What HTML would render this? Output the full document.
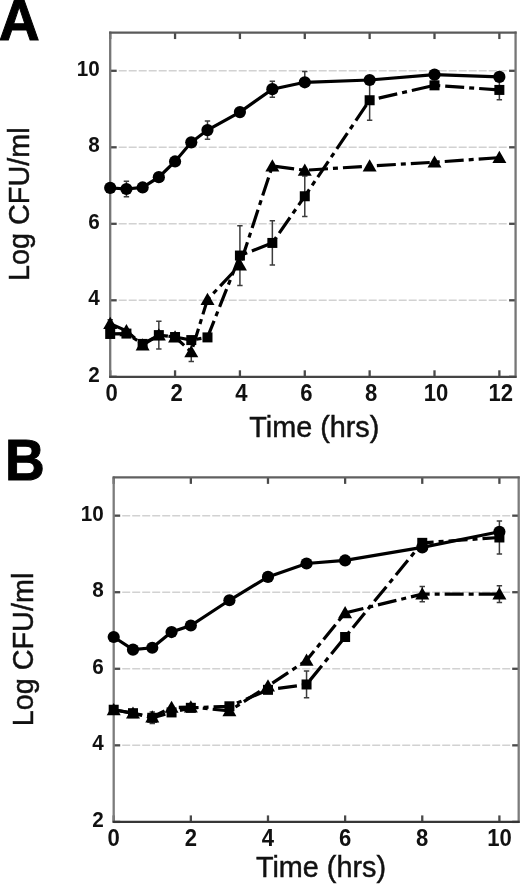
<!DOCTYPE html>
<html><head><meta charset="utf-8"><title>Growth curves</title>
<style>
html,body{margin:0;padding:0;background:#fff;width:520px;height:884px;overflow:hidden}
svg{display:block;filter:blur(0.45px)}
.tl{font-family:"Liberation Sans",Arial,sans-serif;font-weight:bold;font-size:22px;fill:#111}
.tt{font-family:"Liberation Sans",Arial,sans-serif;font-size:28.8px;fill:#111;stroke:#111;stroke-width:0.45px}
.xl{font-size:23px}
.pl{font-family:"Liberation Sans",Arial,sans-serif;font-weight:bold;font-size:58.2px;fill:#000;stroke:#000;stroke-width:1px}
</style></head><body>
<svg width="520" height="884" viewBox="0 0 520 884">
<line x1="118.7" y1="300.3" x2="507.58" y2="300.3" stroke="#d2d2d2" stroke-width="1.5" stroke-dasharray="8 2"/>
<line x1="118.7" y1="223.8" x2="507.58" y2="223.8" stroke="#d2d2d2" stroke-width="1.5" stroke-dasharray="8 2"/>
<line x1="118.7" y1="147.3" x2="507.58" y2="147.3" stroke="#d2d2d2" stroke-width="1.5" stroke-dasharray="8 2"/>
<line x1="118.7" y1="70.8" x2="507.58" y2="70.8" stroke="#d2d2d2" stroke-width="1.5" stroke-dasharray="8 2"/>
<line x1="110.2" y1="376.8" x2="116.7" y2="376.8" stroke="#4a4a4a" stroke-width="2.3"/>
<line x1="515.58" y1="376.8" x2="509.08" y2="376.8" stroke="#4a4a4a" stroke-width="2.3"/>
<line x1="110.2" y1="300.3" x2="116.7" y2="300.3" stroke="#4a4a4a" stroke-width="2.3"/>
<line x1="515.58" y1="300.3" x2="509.08" y2="300.3" stroke="#4a4a4a" stroke-width="2.3"/>
<line x1="110.2" y1="223.8" x2="116.7" y2="223.8" stroke="#4a4a4a" stroke-width="2.3"/>
<line x1="515.58" y1="223.8" x2="509.08" y2="223.8" stroke="#4a4a4a" stroke-width="2.3"/>
<line x1="110.2" y1="147.3" x2="116.7" y2="147.3" stroke="#4a4a4a" stroke-width="2.3"/>
<line x1="515.58" y1="147.3" x2="509.08" y2="147.3" stroke="#4a4a4a" stroke-width="2.3"/>
<line x1="110.2" y1="70.8" x2="116.7" y2="70.8" stroke="#4a4a4a" stroke-width="2.3"/>
<line x1="515.58" y1="70.8" x2="509.08" y2="70.8" stroke="#4a4a4a" stroke-width="2.3"/>
<line x1="110.2" y1="376.8" x2="110.2" y2="370.3" stroke="#4a4a4a" stroke-width="2.3"/>
<line x1="110.2" y1="32.55" x2="110.2" y2="39.05" stroke="#4a4a4a" stroke-width="2.3"/>
<line x1="175.06" y1="376.8" x2="175.06" y2="370.3" stroke="#4a4a4a" stroke-width="2.3"/>
<line x1="175.06" y1="32.55" x2="175.06" y2="39.05" stroke="#4a4a4a" stroke-width="2.3"/>
<line x1="239.92" y1="376.8" x2="239.92" y2="370.3" stroke="#4a4a4a" stroke-width="2.3"/>
<line x1="239.92" y1="32.55" x2="239.92" y2="39.05" stroke="#4a4a4a" stroke-width="2.3"/>
<line x1="304.78" y1="376.8" x2="304.78" y2="370.3" stroke="#4a4a4a" stroke-width="2.3"/>
<line x1="304.78" y1="32.55" x2="304.78" y2="39.05" stroke="#4a4a4a" stroke-width="2.3"/>
<line x1="369.64" y1="376.8" x2="369.64" y2="370.3" stroke="#4a4a4a" stroke-width="2.3"/>
<line x1="369.64" y1="32.55" x2="369.64" y2="39.05" stroke="#4a4a4a" stroke-width="2.3"/>
<line x1="434.5" y1="376.8" x2="434.5" y2="370.3" stroke="#4a4a4a" stroke-width="2.3"/>
<line x1="434.5" y1="32.55" x2="434.5" y2="39.05" stroke="#4a4a4a" stroke-width="2.3"/>
<line x1="499.36" y1="376.8" x2="499.36" y2="370.3" stroke="#4a4a4a" stroke-width="2.3"/>
<line x1="499.36" y1="32.55" x2="499.36" y2="39.05" stroke="#4a4a4a" stroke-width="2.3"/>
<path d="M110.2 31.55V377.8M515.58 31.55V377.8" stroke="#767676" stroke-width="2.3" fill="none"/>
<path d="M109.2 32.55H516.58" stroke="#5a5a5a" stroke-width="2.3" fill="none"/>
<path d="M109.2 376.8H516.58" stroke="#454545" stroke-width="2.3" fill="none"/>
<text transform="translate(99.7 381.8) scale(0.94 1)" text-anchor="end" class="tl">2</text>
<text transform="translate(99.7 305.3) scale(0.94 1)" text-anchor="end" class="tl">4</text>
<text transform="translate(99.7 228.8) scale(0.94 1)" text-anchor="end" class="tl">6</text>
<text transform="translate(99.7 152.3) scale(0.94 1)" text-anchor="end" class="tl">8</text>
<text transform="translate(99.7 75.8) scale(0.94 1)" text-anchor="end" class="tl">10</text>
<text transform="translate(111.7 400.6) scale(0.96 1)" text-anchor="middle" class="tl xl">0</text>
<text transform="translate(176.56 400.6) scale(0.96 1)" text-anchor="middle" class="tl xl">2</text>
<text transform="translate(241.42 400.6) scale(0.96 1)" text-anchor="middle" class="tl xl">4</text>
<text transform="translate(306.28 400.6) scale(0.96 1)" text-anchor="middle" class="tl xl">6</text>
<text transform="translate(371.14 400.6) scale(0.96 1)" text-anchor="middle" class="tl xl">8</text>
<text transform="translate(436 400.6) scale(0.96 1)" text-anchor="middle" class="tl xl">10</text>
<text transform="translate(500.86 400.6) scale(0.96 1)" text-anchor="middle" class="tl xl">12</text>
<text x="314.3" y="436.9" text-anchor="middle" class="tt">Time (hrs)</text>
<text transform="translate(29.2 204.2) rotate(-90)" text-anchor="middle" class="tt">Log CFU/ml</text>
<text transform="translate(-1.2 40) scale(0.975 1)" class="pl">A</text>
<path d="M207.49 120.91V139.27M204.79 120.91H210.19M204.79 139.27H210.19" stroke="#3c3c3c" stroke-width="1.5" fill="none"/>
<path d="M272.35 81.13V97.19M269.65 81.13H275.05M269.65 97.19H275.05" stroke="#3c3c3c" stroke-width="1.5" fill="none"/>
<path d="M304.78 71.57V82.28M302.08 71.57H307.48" stroke="#3c3c3c" stroke-width="1.5" fill="none"/>
<path d="M126.42 181.34V196.64M123.72 181.34H129.12M123.72 196.64H129.12" stroke="#3c3c3c" stroke-width="1.5" fill="none"/>
<path d="M142.63 182.87V192.05M139.93 182.87H145.33M139.93 192.05H145.33" stroke="#3c3c3c" stroke-width="1.5" fill="none"/>
<path d="M434.5 71.56V77.69M431.8 71.56H437.2M431.8 77.69H437.2" stroke="#3c3c3c" stroke-width="1.5" fill="none"/>
<path d="M158.84 321.34V348.88M156.15 321.34H161.54M156.15 348.88H161.54" stroke="#3c3c3c" stroke-width="1.5" fill="none"/>
<path d="M239.92 225.71V285.38M237.22 225.71H242.62M237.22 285.38H242.62" stroke="#3c3c3c" stroke-width="1.5" fill="none"/>
<path d="M272.35 220.74V265.11M269.65 220.74H275.05M269.65 265.11H275.05" stroke="#3c3c3c" stroke-width="1.5" fill="none"/>
<path d="M304.78 175.99V216.53M302.08 175.99H307.48M302.08 216.53H307.48" stroke="#3c3c3c" stroke-width="1.5" fill="none"/>
<path d="M369.64 80.36V120.14M366.94 80.36H372.34M366.94 120.14H372.34" stroke="#3c3c3c" stroke-width="1.5" fill="none"/>
<path d="M499.36 79.98V99.87M496.66 79.98H502.06M496.66 99.87H502.06" stroke="#3c3c3c" stroke-width="1.5" fill="none"/>
<path d="M434.5 81.51V89.16M431.8 81.51H437.2M431.8 89.16H437.2" stroke="#3c3c3c" stroke-width="1.5" fill="none"/>
<path d="M191.28 342.38V361.5M188.58 342.38H193.97M188.58 361.5H193.97" stroke="#3c3c3c" stroke-width="1.5" fill="none"/>
<path d="M110.2 319.81V327.46M107.5 319.81H112.9M107.5 327.46H112.9" stroke="#3c3c3c" stroke-width="1.5" fill="none"/>
<polyline points="110.2,323.63 126.42,330.9 142.63,345.05 158.84,335.11 175.06,337.02 191.28,351.94 207.49,299.54 239.92,265.11 272.35,166.04 304.78,170.25 369.64,166.04 434.5,162.22 499.36,157.63" fill="none" stroke="#000" stroke-width="3.2" stroke-dasharray="19 5 5 5"/>
<polyline points="110.2,333.96 126.42,333.58 142.63,343.91 158.84,335.11 175.06,337.02 191.28,340.08 207.49,337.4 239.92,255.55 272.35,242.93 304.78,196.26 369.64,100.25 434.5,85.34 499.36,89.93" fill="none" stroke="#000" stroke-width="3.2" stroke-dasharray="19 5 5 5"/>
<polyline points="110.2,187.84 126.42,188.99 142.63,187.46 158.84,177.14 175.06,161.45 191.28,142.33 207.49,130.09 239.92,112.11 272.35,89.16 304.78,82.28 369.64,79.98 434.5,74.62 499.36,76.92" fill="none" stroke="#000" stroke-width="3.2"/>
<path d="M110.2 316.83L117.2 329.03H103.2Z"/>
<path d="M126.42 324.1L133.42 336.3H119.42Z"/>
<path d="M142.63 338.25L149.63 350.45H135.63Z"/>
<path d="M158.84 328.31L165.84 340.51H151.84Z"/>
<path d="M175.06 330.22L182.06 342.42H168.06Z"/>
<path d="M191.28 345.14L198.28 357.34H184.28Z"/>
<path d="M207.49 292.74L214.49 304.94H200.49Z"/>
<path d="M239.92 258.31L246.92 270.51H232.92Z"/>
<path d="M272.35 159.24L279.35 171.44H265.35Z"/>
<path d="M304.78 163.45L311.78 175.65H297.78Z"/>
<path d="M369.64 159.24L376.64 171.44H362.64Z"/>
<path d="M434.5 155.42L441.5 167.62H427.5Z"/>
<path d="M499.36 150.83L506.36 163.03H492.36Z"/>
<rect x="105.2" y="328.96" width="10" height="10"/>
<rect x="121.42" y="328.58" width="10" height="10"/>
<rect x="137.63" y="338.91" width="10" height="10"/>
<rect x="153.84" y="330.11" width="10" height="10"/>
<rect x="170.06" y="332.02" width="10" height="10"/>
<rect x="186.28" y="335.08" width="10" height="10"/>
<rect x="202.49" y="332.4" width="10" height="10"/>
<rect x="234.92" y="250.55" width="10" height="10"/>
<rect x="267.35" y="237.93" width="10" height="10"/>
<rect x="299.78" y="191.26" width="10" height="10"/>
<rect x="364.64" y="95.25" width="10" height="10"/>
<rect x="429.5" y="80.34" width="10" height="10"/>
<rect x="494.36" y="84.93" width="10" height="10"/>
<circle cx="110.2" cy="187.84" r="6.1"/>
<circle cx="126.42" cy="188.99" r="6.1"/>
<circle cx="142.63" cy="187.46" r="6.1"/>
<circle cx="158.84" cy="177.14" r="6.1"/>
<circle cx="175.06" cy="161.45" r="6.1"/>
<circle cx="191.28" cy="142.33" r="6.1"/>
<circle cx="207.49" cy="130.09" r="6.1"/>
<circle cx="239.92" cy="112.11" r="6.1"/>
<circle cx="272.35" cy="89.16" r="6.1"/>
<circle cx="304.78" cy="82.28" r="6.1"/>
<circle cx="369.64" cy="79.98" r="6.1"/>
<circle cx="434.5" cy="74.62" r="6.1"/>
<circle cx="499.36" cy="76.92" r="6.1"/>
<line x1="122.2" y1="745.34" x2="510.69" y2="745.34" stroke="#d2d2d2" stroke-width="1.5" stroke-dasharray="8 2"/>
<line x1="122.2" y1="668.78" x2="510.69" y2="668.78" stroke="#d2d2d2" stroke-width="1.5" stroke-dasharray="8 2"/>
<line x1="122.2" y1="592.22" x2="510.69" y2="592.22" stroke="#d2d2d2" stroke-width="1.5" stroke-dasharray="8 2"/>
<line x1="122.2" y1="515.66" x2="510.69" y2="515.66" stroke="#d2d2d2" stroke-width="1.5" stroke-dasharray="8 2"/>
<line x1="113.7" y1="821.9" x2="120.2" y2="821.9" stroke="#4a4a4a" stroke-width="2.3"/>
<line x1="518.69" y1="821.9" x2="512.19" y2="821.9" stroke="#4a4a4a" stroke-width="2.3"/>
<line x1="113.7" y1="745.34" x2="120.2" y2="745.34" stroke="#4a4a4a" stroke-width="2.3"/>
<line x1="518.69" y1="745.34" x2="512.19" y2="745.34" stroke="#4a4a4a" stroke-width="2.3"/>
<line x1="113.7" y1="668.78" x2="120.2" y2="668.78" stroke="#4a4a4a" stroke-width="2.3"/>
<line x1="518.69" y1="668.78" x2="512.19" y2="668.78" stroke="#4a4a4a" stroke-width="2.3"/>
<line x1="113.7" y1="592.22" x2="120.2" y2="592.22" stroke="#4a4a4a" stroke-width="2.3"/>
<line x1="518.69" y1="592.22" x2="512.19" y2="592.22" stroke="#4a4a4a" stroke-width="2.3"/>
<line x1="113.7" y1="515.66" x2="120.2" y2="515.66" stroke="#4a4a4a" stroke-width="2.3"/>
<line x1="518.69" y1="515.66" x2="512.19" y2="515.66" stroke="#4a4a4a" stroke-width="2.3"/>
<line x1="113.7" y1="821.9" x2="113.7" y2="815.4" stroke="#4a4a4a" stroke-width="2.3"/>
<line x1="113.7" y1="477.38" x2="113.7" y2="483.88" stroke="#4a4a4a" stroke-width="2.3"/>
<line x1="190.84" y1="821.9" x2="190.84" y2="815.4" stroke="#4a4a4a" stroke-width="2.3"/>
<line x1="190.84" y1="477.38" x2="190.84" y2="483.88" stroke="#4a4a4a" stroke-width="2.3"/>
<line x1="267.98" y1="821.9" x2="267.98" y2="815.4" stroke="#4a4a4a" stroke-width="2.3"/>
<line x1="267.98" y1="477.38" x2="267.98" y2="483.88" stroke="#4a4a4a" stroke-width="2.3"/>
<line x1="345.12" y1="821.9" x2="345.12" y2="815.4" stroke="#4a4a4a" stroke-width="2.3"/>
<line x1="345.12" y1="477.38" x2="345.12" y2="483.88" stroke="#4a4a4a" stroke-width="2.3"/>
<line x1="422.26" y1="821.9" x2="422.26" y2="815.4" stroke="#4a4a4a" stroke-width="2.3"/>
<line x1="422.26" y1="477.38" x2="422.26" y2="483.88" stroke="#4a4a4a" stroke-width="2.3"/>
<line x1="499.4" y1="821.9" x2="499.4" y2="815.4" stroke="#4a4a4a" stroke-width="2.3"/>
<line x1="499.4" y1="477.38" x2="499.4" y2="483.88" stroke="#4a4a4a" stroke-width="2.3"/>
<path d="M113.7 476.38V822.9M518.69 476.38V822.9" stroke="#7c7c7c" stroke-width="2.3" fill="none"/>
<path d="M112.7 477.38H519.69" stroke="#606060" stroke-width="2.3" fill="none"/>
<path d="M112.7 821.9H519.69" stroke="#363636" stroke-width="2.3" fill="none"/>
<text transform="translate(103.8 826.9) scale(0.94 1)" text-anchor="end" class="tl">2</text>
<text transform="translate(103.8 750.34) scale(0.94 1)" text-anchor="end" class="tl">4</text>
<text transform="translate(103.8 673.78) scale(0.94 1)" text-anchor="end" class="tl">6</text>
<text transform="translate(103.8 597.22) scale(0.94 1)" text-anchor="end" class="tl">8</text>
<text transform="translate(103.8 520.66) scale(0.94 1)" text-anchor="end" class="tl">10</text>
<text transform="translate(113.7 845.7) scale(0.96 1)" text-anchor="middle" class="tl xl">0</text>
<text transform="translate(190.84 845.7) scale(0.96 1)" text-anchor="middle" class="tl xl">2</text>
<text transform="translate(267.98 845.7) scale(0.96 1)" text-anchor="middle" class="tl xl">4</text>
<text transform="translate(345.12 845.7) scale(0.96 1)" text-anchor="middle" class="tl xl">6</text>
<text transform="translate(422.26 845.7) scale(0.96 1)" text-anchor="middle" class="tl xl">8</text>
<text transform="translate(499.4 845.7) scale(0.96 1)" text-anchor="middle" class="tl xl">10</text>
<text x="321" y="877.4" text-anchor="middle" class="tt">Time (hrs)</text>
<text transform="translate(32.6 649.5) rotate(-90)" text-anchor="middle" class="tt">Log CFU/ml</text>
<text transform="translate(5 480.2) scale(0.945 1)" class="pl">B</text>
<path d="M306.55 671.08V697.87M303.85 671.08H309.25M303.85 697.87H309.25" stroke="#3c3c3c" stroke-width="1.5" fill="none"/>
<path d="M499.4 521.02V553.94M496.7 521.02H502.1M496.7 553.94H502.1" stroke="#3c3c3c" stroke-width="1.5" fill="none"/>
<path d="M152.27 712.04V723.52M149.57 712.04H154.97M149.57 723.52H154.97" stroke="#3c3c3c" stroke-width="1.5" fill="none"/>
<path d="M499.4 585.71V602.56M496.7 585.71H502.1M496.7 602.56H502.1" stroke="#3c3c3c" stroke-width="1.5" fill="none"/>
<path d="M422.26 586.48V601.79M419.56 586.48H424.96M419.56 601.79H424.96" stroke="#3c3c3c" stroke-width="1.5" fill="none"/>
<polyline points="113.7,709.74 132.99,713.18 152.27,717.01 171.56,707.44 190.84,707.06 229.41,710.89 267.98,686.01 306.55,660.36 345.12,612.89 422.26,594.13 499.4,594.13" fill="none" stroke="#000" stroke-width="3.2" stroke-dasharray="19 5 5 5"/>
<polyline points="113.7,709.74 132.99,713.18 152.27,717.78 171.56,712.42 190.84,707.83 229.41,706.29 267.98,689.83 306.55,684.47 345.12,637.01 422.26,542.84 499.4,537.48" fill="none" stroke="#000" stroke-width="3.2" stroke-dasharray="19 5 5 5"/>
<polyline points="113.7,637.01 132.99,649.64 152.27,647.73 171.56,632.03 190.84,625.52 229.41,600.26 267.98,576.91 306.55,563.51 345.12,560.45 422.26,547.43 499.4,531.74" fill="none" stroke="#000" stroke-width="3.2"/>
<path d="M113.7 702.94L120.7 715.14H106.7Z"/>
<path d="M132.99 706.38L139.99 718.58H125.99Z"/>
<path d="M152.27 710.21L159.27 722.41H145.27Z"/>
<path d="M171.56 700.64L178.56 712.84H164.56Z"/>
<path d="M190.84 700.26L197.84 712.46H183.84Z"/>
<path d="M229.41 704.09L236.41 716.29H222.41Z"/>
<path d="M267.98 679.21L274.98 691.41H260.98Z"/>
<path d="M306.55 653.56L313.55 665.76H299.55Z"/>
<path d="M345.12 606.09L352.12 618.29H338.12Z"/>
<path d="M422.26 587.33L429.26 599.53H415.26Z"/>
<path d="M499.4 587.33L506.4 599.53H492.4Z"/>
<rect x="108.7" y="704.74" width="10" height="10"/>
<rect x="127.99" y="708.18" width="10" height="10"/>
<rect x="147.27" y="712.78" width="10" height="10"/>
<rect x="166.56" y="707.42" width="10" height="10"/>
<rect x="185.84" y="702.83" width="10" height="10"/>
<rect x="224.41" y="701.29" width="10" height="10"/>
<rect x="262.98" y="684.83" width="10" height="10"/>
<rect x="301.55" y="679.47" width="10" height="10"/>
<rect x="340.12" y="632.01" width="10" height="10"/>
<rect x="417.26" y="537.84" width="10" height="10"/>
<rect x="494.4" y="532.48" width="10" height="10"/>
<circle cx="113.7" cy="637.01" r="6.1"/>
<circle cx="132.99" cy="649.64" r="6.1"/>
<circle cx="152.27" cy="647.73" r="6.1"/>
<circle cx="171.56" cy="632.03" r="6.1"/>
<circle cx="190.84" cy="625.52" r="6.1"/>
<circle cx="229.41" cy="600.26" r="6.1"/>
<circle cx="267.98" cy="576.91" r="6.1"/>
<circle cx="306.55" cy="563.51" r="6.1"/>
<circle cx="345.12" cy="560.45" r="6.1"/>
<circle cx="422.26" cy="547.43" r="6.1"/>
<circle cx="499.4" cy="531.74" r="6.1"/>
</svg>
</body></html>
